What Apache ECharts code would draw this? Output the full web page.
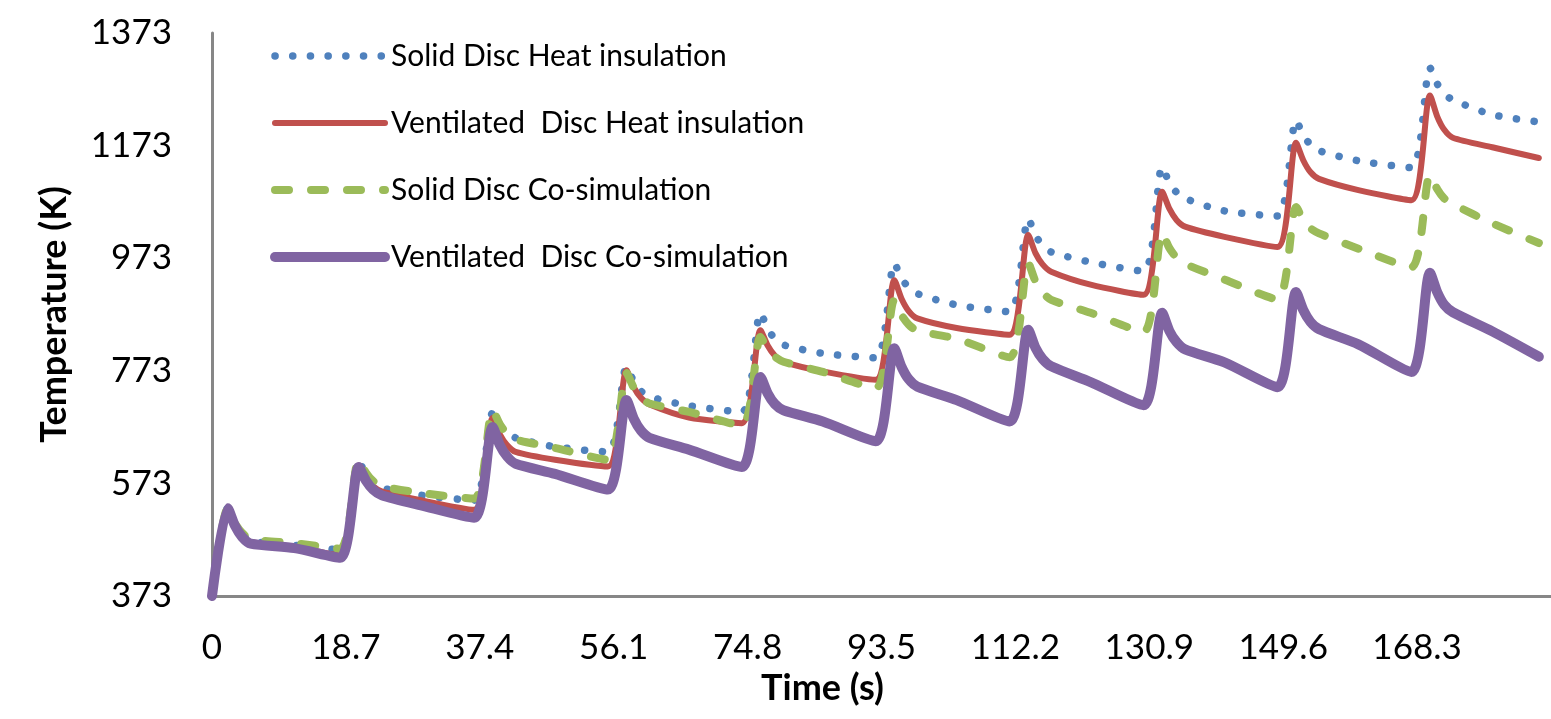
<!DOCTYPE html>
<html>
<head>
<meta charset="utf-8">
<script src="https://cdn.jsdelivr.net/npm/echarts@6/dist/echarts.min.js"></script>
<style>
  html, body { margin: 0; padding: 0; background: #fff; }
  #chart { width: 1551px; height: 719px; }
</style>
</head>
<body>
<div id="chart"></div>
<script>
// time points (s), shared by all four curves: cycle start, peak, decay, knee, slow part
var times = [
  0, 2.2, 3.2, 4.2, 5.4, 11.5,
  17.9, 20.5, 21.5, 22.5, 23.7, 29.2,
  36.6, 39.2, 40.2, 41.2, 42.4, 47.9,
  55.3, 57.9, 58.9, 59.9, 61.1, 66.6,
  74.0, 76.6, 77.6, 78.6, 79.8, 85.3,
  92.7, 95.3, 96.3, 97.3, 98.5, 104.0,
  111.4, 114.0, 115.0, 116.0, 117.2, 122.7,
  130.1, 132.7, 133.7, 134.7, 135.9, 141.4,
  148.8, 151.4, 152.4, 153.4, 154.6, 160.1,
  167.5, 170.1, 171.1, 172.1, 173.3, 178.8,
  185.3
];

// temperatures (K)
var solidHeat = [
  373, 529, 500, 482, 471, 463,
  455, 612, 589, 574, 565, 552,
  543, 698, 676, 663, 654, 638,
  629, 780, 754, 737, 727, 711,
  700, 876, 848, 830, 819, 804,
  796, 964, 937, 921, 910, 890,
  878, 1043, 1014, 995, 984, 966,
  950, 1135, 1107, 1090, 1079, 1057,
  1048, 1218, 1191, 1175, 1164, 1146,
  1134, 1311, 1283, 1265, 1254, 1228,
  1215
];
var ventHeat = [
  373, 529, 500, 481, 469, 460,
  445, 605, 583, 568, 559, 543,
  526, 689, 660, 641, 629, 615,
  603, 774, 744, 725, 713, 690,
  680, 845, 818, 800, 789, 772,
  757, 934, 901, 879, 866, 849,
  837, 1014, 982, 962, 949, 926,
  908, 1091, 1061, 1041, 1029, 1011,
  993, 1178, 1147, 1126, 1114, 1094,
  1076, 1262, 1225, 1201, 1187, 1170,
  1151
];
var solidCo = [
  373, 529, 502, 485, 474, 467,
  457, 615, 592, 577, 568, 556,
  546, 703, 678, 661, 651, 636,
  615, 769, 743, 726, 715, 700,
  676, 833, 812, 798, 789, 771,
  742, 899, 872, 855, 844, 830,
  797, 964, 932, 912, 899, 876,
  842, 1018, 991, 974, 963, 935,
  900, 1064, 1041, 1026, 1017, 990,
  957, 1121, 1096, 1079, 1069, 1035,
  1000
];
var ventCo = [
  373, 529, 498, 478, 466, 458,
  441, 602, 578, 562, 552, 534,
  512, 673, 641, 621, 608, 590,
  562, 721, 688, 667, 654, 633,
  602, 762, 733, 714, 703, 683,
  648, 813, 780, 758, 745, 721,
  683, 846, 814, 794, 781, 753,
  712, 876, 844, 824, 811, 788,
  744, 913, 881, 860, 847, 820,
  771, 947, 913, 890, 877, 843,
  798
];

var names = [
  'Solid Disc Heat insulation',
  'Ventilated  Disc Heat insulation',
  'Solid Disc Co-simulation',
  'Ventilated  Disc Co-simulation'
];

// y axis starts at 373 K; plot offsets so ticks fall on 373, 573, ...
var baseT = 373;

function toPairs(vals) {
  var res = [];
  for (var i = 0; i < times.length; i++) {
    res.push([times[i], vals[i] - baseT]);
  }
  return res;
}

function makeSeries(name, vals, color, width, dash) {
  return {
    name: name,
    type: 'line',
    data: toPairs(vals),
    symbol: 'none',
    smooth: 0.25,
    lineStyle: { color: color, width: width, type: dash, cap: 'round', join: 'round' },
    itemStyle: { color: color }
  };
}

var chart = echarts.init(document.getElementById('chart'));
var font = 'Lato';

chart.setOption({
  animation: false,
  backgroundColor: '#fff',
  grid: { left: 212, right: -12, top: 33, bottom: 123 },
  legend: {
    orient: 'vertical',
    left: 270,
    top: 41,
    padding: 0,
    itemWidth: 110,
    itemHeight: 16,
    itemGap: 37,
    data: names,
    itemStyle: { opacity: 0 },
    lineStyle: { width: 'inherit', cap: 'round' },
    textStyle: { fontFamily: font, fontSize: 30, color: '#000', padding: [0, 0, 0, 1] }
  },
  xAxis: {
    type: 'value',
    min: 0,
    max: 187,
    interval: 18.7,
    name: 'Time (s)',
    nameLocation: 'middle',
    nameGap: 74,
    nameTextStyle: { fontFamily: font, fontSize: 36, fontWeight: 'bold', color: '#000', padding: [0, 118, 0, 0] },
    axisLine: { lineStyle: { color: '#878787', width: 3 } },
    axisTick: { show: false },
    splitLine: { show: false },
    axisLabel: {
      fontFamily: font, fontSize: 35, color: '#000', margin: 34, showMaxLabel: false,
      formatter: function (v) { return v === 0 ? '0' : v.toFixed(1); }
    }
  },
  yAxis: {
    type: 'value',
    min: 0,
    max: 1000,
    interval: 200,
    name: 'Temperature (K)',
    nameLocation: 'middle',
    nameGap: 140,
    nameTextStyle: { fontFamily: font, fontSize: 36, fontWeight: 'bold', color: '#000' },
    axisLine: { show: true, lineStyle: { color: '#878787', width: 3 } },
    axisTick: { show: false },
    splitLine: { show: false },
    axisLabel: {
      fontFamily: font, fontSize: 35, color: '#000', margin: 40,
      formatter: function (v) { return String(Math.round(v + baseT)); }
    }
  },
  series: [
    makeSeries(names[0], solidHeat, '#4F81BD', 7.5, [0.1, 17.6]),
    makeSeries(names[1], ventHeat, '#C0504D', 6, 'solid'),
    makeSeries(names[2], solidCo, '#9BBB59', 8, [14, 22]),
    makeSeries(names[3], ventCo, '#8064A2', 10, 'solid')
  ]
});
</script>
</body>
</html>
